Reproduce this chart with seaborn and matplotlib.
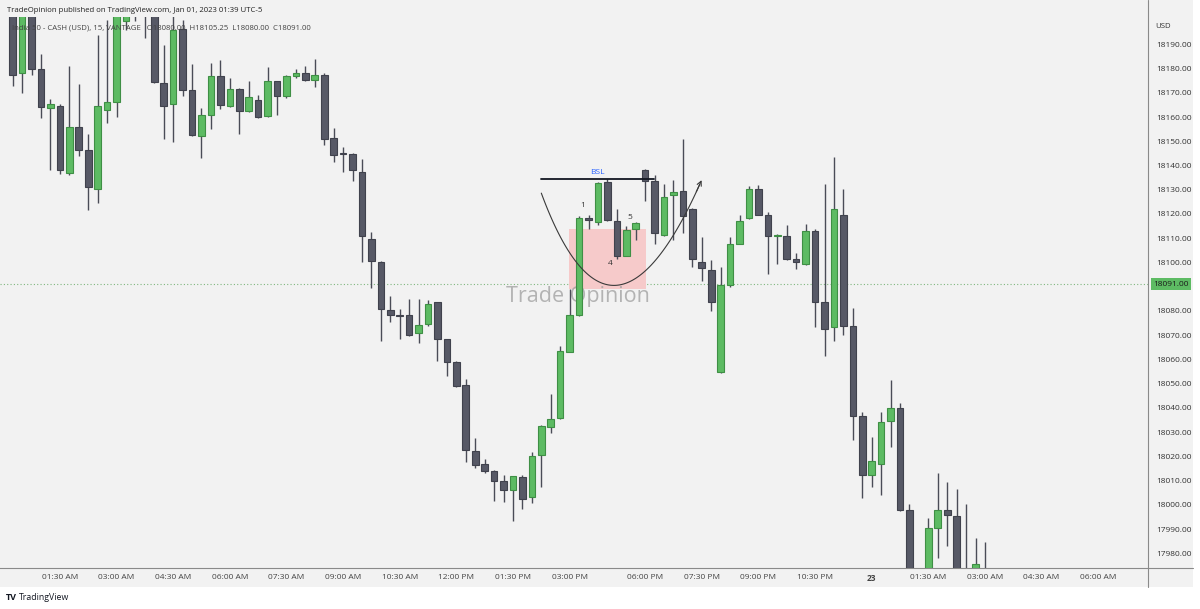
import numpy as np
import pandas as pd
import seaborn as sns
import matplotlib
matplotlib.use("Agg")
import matplotlib.pyplot as plt
from matplotlib.patches import Rectangle
import matplotlib.transforms as mtransforms

# ---------------- data ----------------
opens = [18206, 18178, 18207, 18180, 18163.75, 18164.75, 18136.75, 18156, 18146.5, 18130.5,
         18163, 18166.25, 18199.5, 18212, 18210, 18207, 18174, 18165.5, 18196.25, 18171,
         18152.25, 18160.75, 18177, 18164.75, 18171.5, 18162.5, 18167, 18160.5, 18174.75, 18168.5,
         18176.75, 18178.25, 18175.25, 18177.5, 18151.5, 18145, 18144.75, 18137.5, 18109.5, 18100.25,
         18080.5, 18078.25, 18078.25, 18070.75, 18074.5, 18083.5, 18068.25, 18059, 18049.25, 18022.25,
         18016.75, 18014, 18010, 18006, 18011.5, 18003.25, 18020.5, 18032, 18036, 18063.25,
         18078.25, 18118.25, 18116.75, 18133, 18117, 18102.75, 18114, 18138.25, 18133.5, 18111.5,
         18128, 18129.5, 18122.25, 18100, 18097, 18054.75, 18090.5, 18107.75, 18118.25, 18130.5,
         18119.75, 18111, 18110.75, 18101.25, 18099.25, 18113, 18083.5, 18073.5, 18119.75, 18073.75,
         18036.5, 18012.5, 18017, 18034.5, 18040, 17997.75, 17966, 17962, 17990.5, 17997.75,
         17995.5, 17968, 17972, 17970]
highs = [18210, 18210, 18210, 18186, 18167.5, 18165.5, 18181, 18173.5, 18153, 18193.75,
         18200, 18206, 18212, 18215, 18214, 18210, 18189.75, 18202.5, 18200, 18182,
         18163.75, 18182.25, 18183.5, 18176, 18172, 18175, 18169.25, 18180.5, 18175, 18177.5,
         18180, 18181.25, 18184, 18178.25, 18155.5, 18147.5, 18145, 18142.5, 18112.5, 18100.5,
         18086, 18081, 18085, 18085, 18084.5, 18083.5, 18068.25, 18059.5, 18052, 18027.5,
         18019, 18014.25, 18012.5, 18012, 18012.5, 18022, 18032.75, 18045.75, 18065.5, 18089,
         18119.25, 18119.75, 18133, 18134.5, 18122, 18115, 18116.5, 18138.5, 18136, 18132.25,
         18134, 18151, 18122.5, 18110.5, 18101, 18098.25, 18110.5, 18119.5, 18131.5, 18132,
         18120.75, 18111.75, 18115.25, 18103.75, 18116, 18113.75, 18132.5, 18143.5, 18130.5, 18081.25,
         18038.5, 18028, 18038.25, 18051.5, 18042, 18000.5, 17970, 17994.5, 18013, 18009.5,
         18006.75, 18000.25, 17986.5, 17984.5]
lows = [18173, 18170, 18177.5, 18159.5, 18138.25, 18136.5, 18136, 18144, 18121.5, 18124.5,
        18157.5, 18160, 18196, 18199.5, 18192.5, 18174, 18151, 18149.5, 18168.5, 18152,
        18143, 18155, 18163.5, 18164, 18153, 18162, 18159.75, 18160, 18160.75, 18168,
        18176, 18175, 18172.25, 18148.5, 18141.25, 18137.25, 18133.5, 18100, 18089.5, 18067.5,
        18075.25, 18068.25, 18069.75, 18066.75, 18073.75, 18059.5, 18053, 18048.75, 18017.75, 18015.25,
        18013, 18001.75, 18001.25, 17993.5, 17998.25, 18000.75, 18007.25, 18029.5, 18035.25, 18063,
        18078, 18113.75, 18115.5, 18117, 18101.25, 18102.5, 18109.25, 18125.25, 18107.75, 18111,
        18109.25, 18112, 18098, 18092.5, 18080, 18054.5, 18090, 18107.5, 18118, 18119.5,
        18095.25, 18099.5, 18101, 18097.25, 18099, 18073.5, 18061.5, 18067.75, 18070, 18026.75,
        18003, 18007.25, 18004, 18023.75, 17997.5, 17960, 17950, 17955, 17978, 17983,
        17960, 17955, 17965, 17960]
closes = [18177.5, 18205, 18180, 18164, 18165.5, 18138, 18156, 18146.5, 18131.25, 18164.5,
          18166.25, 18202, 18209, 18206, 18204, 18174.5, 18164.75, 18195.75, 18171, 18152.75,
          18161, 18177, 18165, 18171.5, 18162.5, 18168.25, 18160, 18174.75, 18168.5, 18176.75,
          18178.25, 18175.25, 18177.5, 18151, 18144.5, 18144.75, 18138.25, 18111, 18100.75, 18081,
          18078.25, 18078, 18070, 18074, 18082.75, 18068.25, 18058.75, 18049, 18022.5, 18016.5,
          18014, 18010, 18006, 18012, 18002.5, 18020, 18032.5, 18035.5, 18063.5, 18078.25,
          18118.5, 18117.5, 18132.75, 18117.5, 18102.5, 18113.5, 18116.25, 18133.5, 18112, 18127,
          18129, 18119, 18101.25, 18097.75, 18083.5, 18090.5, 18107.75, 18117, 18130.5, 18119.75,
          18110.75, 18111, 18101.25, 18100, 18113, 18083.5, 18072.5, 18122.25, 18073.75, 18036.5,
          18012.5, 18018.25, 18034, 18040, 17997.75, 17965, 17955, 17990.5, 17998, 17995.75,
          17968, 17962, 17975.5, 17965]

time_tick_pos = [5, 11, 17, 23, 29, 35, 41, 47, 53, 59, 67, 73, 79, 85, 91, 97, 103, 109, 115]
time_tick_labels = ["01:30 AM", "03:00 AM", "04:30 AM", "06:00 AM", "07:30 AM", "09:00 AM",
                    "10:30 AM", "12:00 PM", "01:30 PM", "03:00 PM", "06:00 PM", "07:30 PM",
                    "09:00 PM", "10:30 PM", "23", "01:30 AM", "03:00 AM", "04:30 AM", "06:00 AM"]
price_ticks = [p for p in range(17980, 18191, 10) if p != 18090]
last_price = 18091.0

# annotation geometry (index / price units)
bsl_x = [55.95, 67.9]
bsl_y = 18134.6
zone_x0, zone_x1 = 58.9, 67.05
zone_y0, zone_y1 = 18089.0, 18113.6
arc_p0 = (56.0, 18128.6)
arc_p1 = (63.5, 18049.4)
arc_p2 = (73.1, 18135.0)
swing_labels = [("1", 60.35, 18123.5), ("4", 63.3, 18099.5), ("5", 65.35, 18118.5)]

# ---------------- style ----------------
sns.set_theme(style="white")
plt.rcParams['font.family'] = ['Open Sans', 'DejaVu Sans']

BG = '#F2F2F2'
UP_FILL, UP_EDGE = '#5DBB63', '#3F8F45'
DN_FILL, DN_EDGE = '#575966', '#40424D'
WICK = '#4A4C57'
TXT = '#333333'

fig = plt.figure(figsize=(12, 6.09), dpi=100, facecolor=BG)
W, H = 1200, 609
ax_left, ax_right = 0, 1148
ax_top, ax_bot = 17, 568.3
ax = fig.add_axes([ax_left / W, 1 - ax_bot / H, (ax_right - ax_left) / W, (ax_bot - ax_top) / H])
ax.set_facecolor(BG)

df = pd.DataFrame({"idx": np.arange(len(opens)), "open": opens, "high": highs,
                   "low": lows, "close": closes})
df["up"] = df["close"] >= df["open"]

# wicks
ax.vlines(df["idx"], df["low"], df["high"], color=WICK, lw=1.0, zorder=3)
# bodies
body_h = (df["close"] - df["open"]).abs().clip(lower=0.45)
body_b = df[["open", "close"]].min(axis=1)
ax.bar(df["idx"][df.up], body_h[df.up], bottom=body_b[df.up], width=0.7,
       color=UP_FILL, edgecolor=UP_EDGE, linewidth=0.8, zorder=4)
ax.bar(df["idx"][~df.up], body_h[~df.up], bottom=body_b[~df.up], width=0.7,
       color=DN_FILL, edgecolor=DN_EDGE, linewidth=0.8, zorder=4)

# last price dotted line
ax.axhline(last_price, color='#7FB77E', lw=0.8, ls=(0, (1, 2)), zorder=1)

# pink zone
ax.add_patch(Rectangle((zone_x0, zone_y0), zone_x1 - zone_x0, zone_y1 - zone_y0,
                       facecolor='#F6CACA', edgecolor='none', zorder=1.5))

# BSL line and label
sns.lineplot(x=bsl_x, y=[bsl_y, bsl_y], ax=ax, color='#131722', lw=1.3, zorder=5,
             estimator=None, sort=False)
ax.text(61.9, bsl_y + 1.0, "BSL", color='#2962FF', fontsize=6,
        ha='center', va='bottom', zorder=6)

# arc with arrow
t = np.linspace(0, 1, 120)
arc_x = (1 - t) ** 2 * arc_p0[0] + 2 * t * (1 - t) * arc_p1[0] + t ** 2 * arc_p2[0]
arc_y = (1 - t) ** 2 * arc_p0[1] + 2 * t * (1 - t) * arc_p1[1] + t ** 2 * arc_p2[1]
sns.lineplot(x=arc_x[:-2], y=arc_y[:-2], ax=ax, color='#3A3A3A', lw=0.8, zorder=6,
             estimator=None, sort=False)
ax.annotate("", xy=(arc_x[-1], arc_y[-1]), xytext=(arc_x[-6], arc_y[-6]),
            arrowprops=dict(arrowstyle='->', color='#3A3A3A', lw=0.8, mutation_scale=8),
            zorder=6)

for s, xx, yy in swing_labels:
    ax.text(xx, yy, s, fontsize=6, color=TXT, ha='center', va='center', zorder=6)

# watermark
ax.text(59.9, 18086.0, "Trade Opinion", fontsize=15.5, color='#9E9E9E', alpha=0.75,
        ha='center', va='center', zorder=2)

# axes limits / ticks
ax.set_xlim(-1.345, 120.27)
ax.set_ylim(17973.83, 18201.26)
ax.yaxis.tick_right()
ax.set_yticks(price_ticks)
ax.set_yticklabels([f"{p:.2f}" for p in price_ticks])
ax.set_xticks(time_tick_pos)
ax.set_xticklabels(time_tick_labels)
ax.tick_params(axis='y', length=0, pad=6, labelsize=6, labelcolor=TXT)
ax.tick_params(axis='x', length=0, pad=4, labelsize=6, labelcolor='#444444')
for lab in ax.get_xticklabels():
    if lab.get_text() == "23":
        lab.set_fontweight('bold')
for sp in ['top', 'left', 'right']:
    ax.spines[sp].set_visible(False)
ax.spines['bottom'].set_color('#8A8A8A')
ax.spines['bottom'].set_linewidth(0.8)
ax.grid(False)

# price label box
trans = mtransforms.blended_transform_factory(ax.transAxes, ax.transData)
ax.text(1.0045, last_price, "18091.00", transform=trans, fontsize=6, color='#1B1B1B',
        ha='left', va='center', zorder=7,
        bbox=dict(boxstyle='square,pad=0.28', facecolor='#5DBB63', edgecolor='none'))

# figure-level decorations
fig.add_artist(plt.Line2D([ax_right / W, ax_right / W], [1 - 587 / H, 1], color='#8A8A8A',
                          lw=0.8, transform=fig.transFigure))
fig.add_artist(plt.Line2D([ax_right / W, 1193 / W], [1 - ax_bot / H, 1 - ax_bot / H],
                          color='#8A8A8A', lw=0.8, transform=fig.transFigure))
fig.add_artist(Rectangle((0, 0), 1, (H - 587) / H, transform=fig.transFigure,
                         facecolor='white', edgecolor='none', zorder=0))
fig.add_artist(Rectangle((1193 / W, 0), (W - 1193) / W, 1, transform=fig.transFigure,
                         facecolor='white', edgecolor='none', zorder=0))

fig.text(7 / W, 1 - 10 / H, "TradeOpinion published on TradingView.com, Jan 01, 2023 01:39 UTC-5",
         fontsize=5.6, color='#222222', ha='left', va='center')
fig.text(12 / W, 1 - 28 / H,
         "India 50 - CASH (USD), 15, VANTAGE   O18080.00  H18105.25  L18080.00  C18091.00",
         fontsize=5.6, color='#444444', ha='left', va='center', zorder=0)
fig.text(1155 / W, 1 - 27 / H, "USD", fontsize=5.6, color=TXT, ha='left', va='center')
fig.text(6 / W, 1 - 598 / H, "TV", fontsize=6.5, fontweight='bold', color='#131722',
         ha='left', va='center')
fig.text(19 / W, 1 - 598 / H, "TradingView", fontsize=6.3, color='#131722',
         ha='left', va='center')

fig.savefig("out.png", dpi=100, facecolor=BG)
